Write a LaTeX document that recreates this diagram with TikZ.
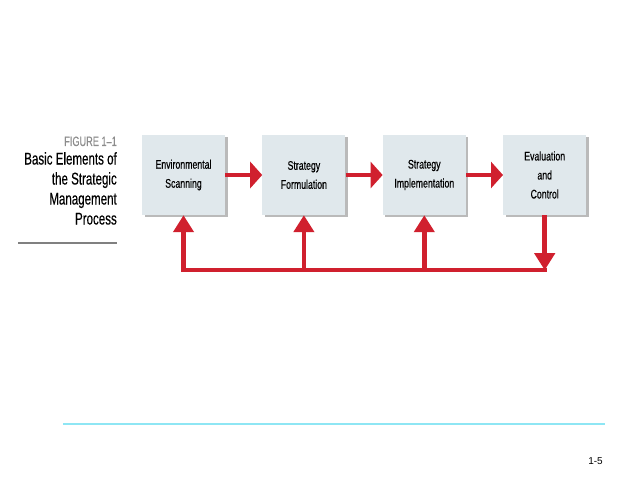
\documentclass[tikz,border=0pt]{standalone}
\usepackage{fontspec}
\setmainfont{Liberation Sans}
\newfontfamily\narrowfont{Liberation Sans}[FakeStretch=0.7, FakeBold=0.4]
\newfontfamily\titlefont{Liberation Sans}[FakeStretch=0.68, FakeBold=0.3]
\usetikzlibrary{positioning, arrows.meta, calc, shadows}
\definecolor{smred}{HTML}{D0202E}
\definecolor{smbox}{HTML}{E0E8EC}
\definecolor{smcyan}{HTML}{8EE6F4}
\tikzset{
  % stage boxes of the process
  smstage/.style={
    fill=smbox,
    draw=none,
    minimum width=83pt,
    minimum height=80pt,
    align=center,
    font=\narrowfont\fontsize{12.5}{19}\selectfont,
    drop shadow={shadow xshift=2.5pt, shadow yshift=-2.5pt, fill=black!45, opacity=0.6},
  },
  smflow/.style={-{Triangle[length=12pt, width=26pt]}, line width=4.5pt, draw=smred},
  smback/.style={-{Triangle[length=17pt, width=20pt]}, line width=4.5pt, draw=smred},
  smbus/.style={line width=4.5pt, draw=smred, line cap=rect},
}

\begin{document}
\begin{tikzpicture}[x=1pt, y=-1pt, node distance=37pt]
  \useasboundingbox[fill=white] (0,0) rectangle (638,478);

  % --- caption at the left ---
  \node[anchor=base east, inner sep=0pt, text=black!45,
    font=\titlefont\fontsize{13.5}{15}\selectfont] (figLabel) at (117,146) {FIGURE 1–1};
  \node[anchor=north east, inner sep=0pt, align=right,
    font=\titlefont\fontsize{17}{20}\selectfont] (figTitle) at (117,152)
    {Basic Elements of\\the Strategic\\Management\\Process};
  \draw[black!50, line width=1.2pt] (18,243) -- (117,243);

  % --- stages ---
  \node[smstage] (scan) at (183.5,175) {Environmental\\Scanning};
  \node[smstage, right=of scan] (form) {Strategy\\Formulation};
  \node[smstage, right=of form] (impl) {Strategy\\Implementation};
  \node[smstage, right=of impl] (eval) {Evaluation\\and\\Control};

  % --- arrows ---
  \draw[smflow] (scan.east) -- (form.west);
  \draw[smflow] (form.east) -- (impl.west);
  \draw[smflow] (impl.east) -- (eval.west);

  \coordinate (fbBus) at ($(scan.south) + (0,55)$);
  \draw[smbus] (eval.south |- fbBus) -- (scan.south |- fbBus);
  \draw[smback] (eval.south) -- (eval.south |- fbBus);
  \draw[smback] (scan.south |- fbBus) -- (scan.south);
  \draw[smback] (form.south |- fbBus) -- (form.south);
  \draw[smback] (impl.south |- fbBus) -- (impl.south);

  % --- footer ---
  \draw[smcyan, line width=1.8pt] (63,424) -- (605,424);
  \node[font=\fontsize{10}{12}\selectfont, anchor=base east, inner sep=0pt] (pageNo) at (603,465) {1-5};
\end{tikzpicture}
\end{document}
